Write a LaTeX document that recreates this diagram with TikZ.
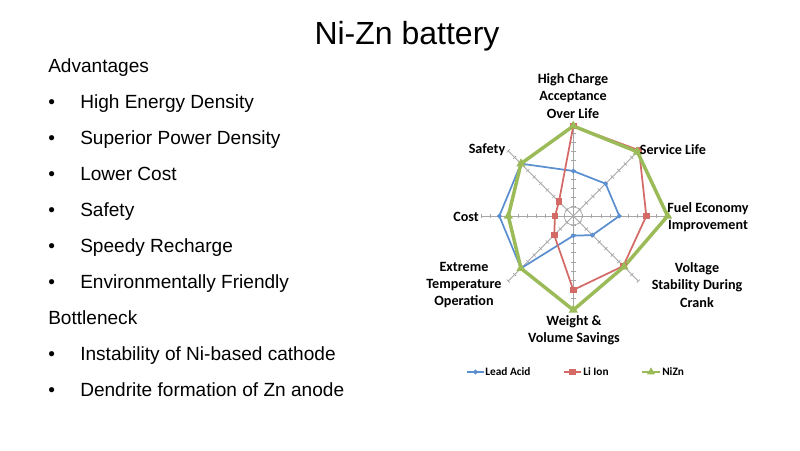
\documentclass[tikz,border=0pt]{standalone}
\usepackage{fontspec}
\setmainfont{Liberation Sans}
\newfontfamily\carfont[BoldFont={Carlito Bold}]{Carlito}
\usetikzlibrary{shapes.geometric}
\definecolor{cblue}{HTML}{5B8FCF}
\definecolor{cred}{HTML}{D46A66}
\definecolor{cgreen}{HTML}{9BBB59}
\definecolor{cgray}{HTML}{A6A6A6}
\begin{document}
\begin{tikzpicture}[x=0.75pt,y=-0.75pt,
  body/.style={anchor=base west,font=\fontsize{14.3}{17}\selectfont,inner sep=0pt},
  lab/.style={font=\carfont\bfseries\fontsize{10.6}{13}\selectfont,align=center,inner sep=0pt},
  diam/.style={diamond,fill=cblue,inner sep=0pt,minimum size=4pt},
  sq/.style={rectangle,fill=cred,inner sep=0pt,minimum size=5pt},
  tri/.style={regular polygon,regular polygon sides=3,fill=cgreen,inner sep=0pt,minimum size=8pt},
  legtext/.style={anchor=west,font=\carfont\bfseries\fontsize{8.5}{10}\selectfont,inner sep=0pt}]
\useasboundingbox (0,0) rectangle (800,450);
\node[font=\fontsize{24}{28}\selectfont] (title) at (407,36) {Ni-Zn battery};
\node[body] (adv) at (48,72) {Advantages};
\foreach \t [count=\i] in {High Energy Density,Superior Power Density,Lower Cost,Safety,Speedy Recharge,Environmentally Friendly}{
  \node[body] (b\i) at (48,{72+36*\i}) {•};
  \node[body] (t\i) at (80,{72+36*\i}) {\t};
}
\node[body] (bot) at (48,324) {Bottleneck};
\node[body] (b7) at (48,360) {•};
\node[body] (t7) at (80,360) {Instability of Ni-based cathode};
\node[body] (b8) at (48,396) {•};
\node[body] (t8) at (80,396) {Dendrite formation of Zn anode};
% chart
\coordinate (c) at (573.3,216);
\foreach \a in {-90,-45,0,45,90,135,180,225}{
  \draw[cgray,line width=0.7pt] (c) -- ++(\a:92) coordinate (ax\a);
  \foreach \k in {1,...,10}{
    \draw[cgray,line width=0.5pt] (c) ++(\a:{9.2*\k}) ++(\a+90:2.2) -- ++(\a-90:4.4);
  }
}
\draw[cgray,line width=0.5pt] (c) circle[radius=9];
\foreach \a/\r [count=\i] in {-90/45,-45/45.7,0/46,45/27,90/19.7,135/74,180/74,225/74}
  \path (c) ++(\a:\r) coordinate (L\i);
\foreach \a/\r [count=\i] in {-90/90,-45/93,0/73,45/70.7,90/74,135/27,180/18.3,225/20.3}
  \path (c) ++(\a:\r) coordinate (I\i);
\foreach \a/\r [count=\i] in {-90/90,-45/90.7,0/94.3,45/71.7,90/94,135/74,180/65,225/74}
  \path (c) ++(\a:\r) coordinate (N\i);
\draw[cblue,line width=1.3pt] (L1)--(L2)--(L3)--(L4)--(L5)--(L6)--(L7)--(L8)--cycle;
\draw[cred,line width=1.3pt] (I1)--(I2)--(I3)--(I4)--(I5)--(I6)--(I7)--(I8)--cycle;
\draw[cgreen,line width=2.6pt,line join=round] (N1)--(N2)--(N3)--(N4)--(N5)--(N6)--(N7)--(N8)--cycle;
\foreach \i in {1,...,8}{
  \node[diam] at (L\i) {};
  \node[sq] at (I\i) {};
  \node[tri] at (N\i) {};
}
\node[lab] (l1) at (573,96) {High Charge\\Acceptance\\Over Life};
\node[lab] (l2) at (673,150) {Service Life};
\node[lab] (l3) at (708,217) {Fuel Economy\\Improvement};
\node[lab] (l4) at (697,285) {Voltage\\Stability During\\Crank};
\node[lab] (l5) at (574,330) {Weight \&\\Volume Savings};
\node[lab] (l6) at (464,285) {Extreme\\Temperature\\Operation};
\node[lab] (l7) at (466,217) {Cost};
\node[lab] (l8) at (487,150) {Safety};
% legend
\draw[cblue,line width=1.2pt] (467,372) coordinate (ga) -- (484,372) coordinate (gb);
\node[diam] at (475.5,372) {};
\node[legtext] (lg1) at (485,372) {Lead Acid};
\draw[cred,line width=1.2pt] (564,372) coordinate (gc) -- (581,372) coordinate (gd);
\node[sq] at (572.5,372) {};
\node[legtext] (lg2) at (583,372) {Li Ion};
\draw[cgreen,line width=2.2pt] (642,372) coordinate (ge) -- (660,372) coordinate (gf);
\node[tri,minimum size=7pt] at (651,372) {};
\node[legtext] (lg3) at (662,372) {NiZn};
\end{tikzpicture}
\end{document}
